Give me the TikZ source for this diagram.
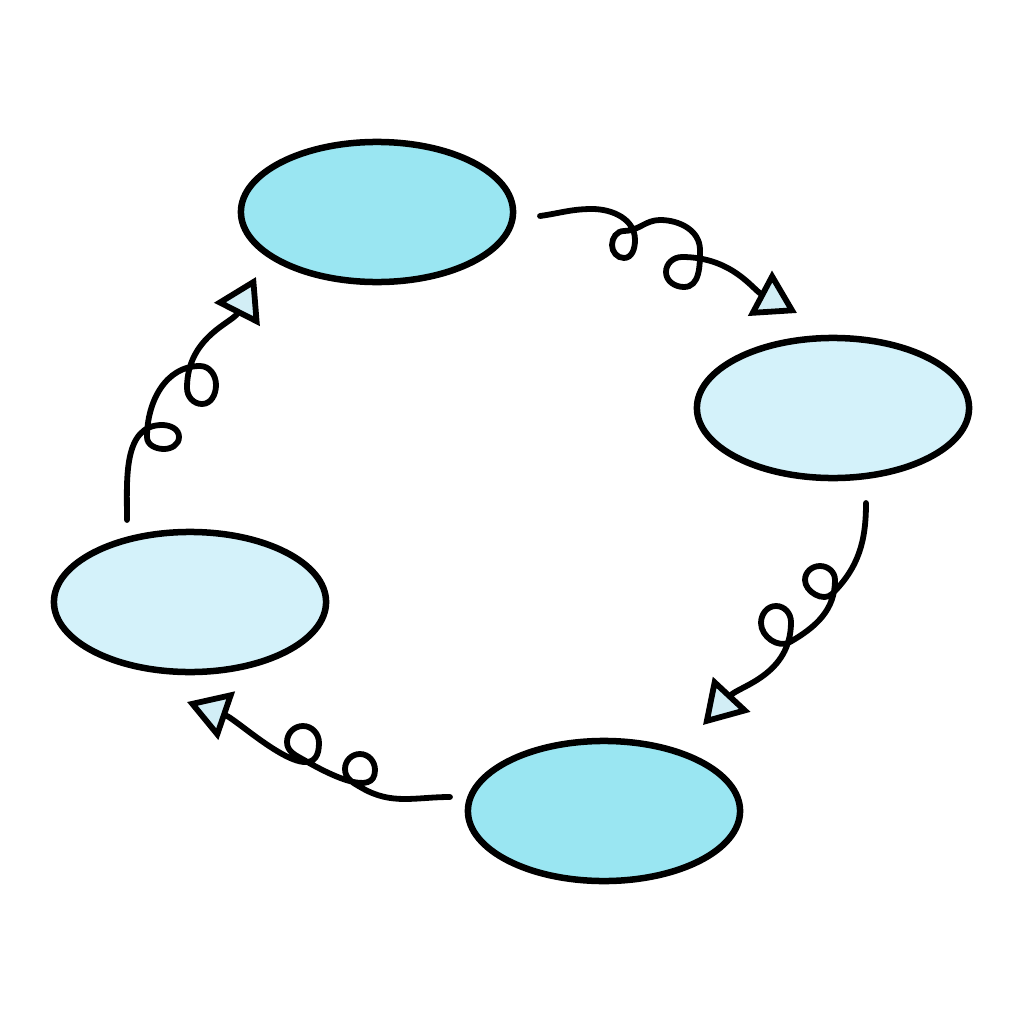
\documentclass[tikz,border=0pt]{standalone}
\usetikzlibrary{shapes.geometric,arrows.meta}
\definecolor{darkfill}{RGB}{154,230,242}
\definecolor{lightfill}{RGB}{212,242,250}
\definecolor{tipfill}{RGB}{210,238,246}
\begin{document}
\begin{tikzpicture}[x=0.01cm,y=-0.01cm,
  bubble/.style={ellipse,draw,line width=0.065cm,minimum width=2.72cm,minimum height=1.4cm,inner sep=0pt},
  curl/.style={line width=0.058cm,line cap=round,-{Triangle[length=0.42cm,width=0.5cm,fill=tipfill]}}]
\useasboundingbox (0,0) rectangle (1024,1024);
\node[bubble,fill=darkfill] (top) at (377,212) {};
\node[bubble,fill=lightfill] (right) at (833,408) {};
\node[bubble,fill=darkfill] (bottom) at (604,811) {};
\node[bubble,fill=lightfill] (left) at (190,602) {};
\coordinate (s1) at (540,216);
\coordinate (t1) at (797,313);
\coordinate (s2) at (866,503);
\coordinate (t2) at (703,725);
\coordinate (s3) at (450,797);
\coordinate (t3) at (187,702);
\coordinate (s4) at (127,520);
\coordinate (t4) at (256,277);
\draw[curl] (s1) to[out=8,in=180] (592,209) to[out=0,in=90] (635,240)
  to[out=-90,in=0] (624,258) to[out=180,in=-90] (612,245) to[out=90,in=180] (624,231)
  to[out=0,in=180] (660,220) to[out=0,in=90] (700,250)
  to[out=-90,in=0] (684,287) to[out=180,in=-90] (666,272) to[out=90,in=180] (682,257)
  to[out=0,in=152] (t1);
\draw[curl] (s2) to[out=-90,in=45] (832,594) to[out=-135,in=-90] (805,580)
  to[out=90,in=180] (820,566) to[out=0,in=90] (835,580)
  to[out=-90,in=30] (790,642) to[out=-150,in=-90] (761,623)
  to[out=90,in=180] (776,606) to[out=0,in=90] (791,622)
  to[out=-90,in=47] (t2);
\draw[curl] (s3) to[out=180,in=-30] (362,788) to[out=150,in=-90] (345,769)
  to[out=90,in=180] (360,754) to[out=0,in=90] (375,770)
  to[out=-90,in=-30] (304,760) to[out=150,in=-90] (287,742)
  to[out=90,in=180] (303,726) to[out=0,in=90] (319,743)
  to[out=-90,in=-19] (t3);
\draw[curl] (s4) to[out=90,in=180] (162,425) to[out=0,in=90] (179,437)
  to[out=-90,in=0] (164,449) to[out=180,in=-90] (147,437)
  to[out=90,in=180] (200,366) to[out=0,in=90] (216,385)
  to[out=-90,in=0] (202,404) to[out=180,in=-90] (187,388)
  to[out=90,in=243] (t4);
\end{tikzpicture}
\end{document}
